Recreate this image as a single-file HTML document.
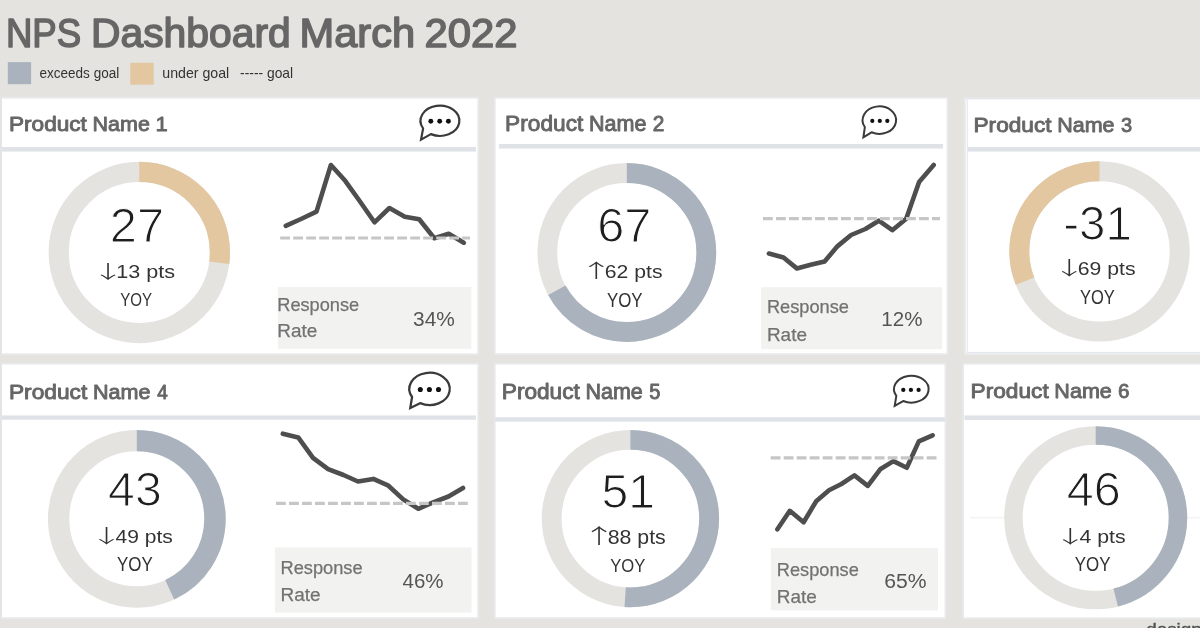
<!DOCTYPE html>
<html><head><meta charset="utf-8"><title>NPS Dashboard March 2022</title>
<style>
html,body{margin:0;padding:0;background:#e4e3df;}
body{width:1200px;height:628px;overflow:hidden;}
svg{display:block;font-family:"Liberation Sans",Arial,sans-serif;font-kerning:none;}
</style></head><body>
<svg width="1200" height="628" viewBox="0 0 1200 628">
<rect x="0" y="0" width="1200" height="628" fill="#e4e3df"/>
<text x="5.90" y="46.50" font-size="39.97" font-weight="normal" textLength="75.18" lengthAdjust="spacingAndGlyphs" fill="#666666" stroke="#666666" stroke-width="1.5" stroke-linejoin="round">NPS</text>
<text x="91.00" y="46.50" font-size="39.97" font-weight="normal" textLength="199.78" lengthAdjust="spacingAndGlyphs" fill="#666666" stroke="#666666" stroke-width="1.5" stroke-linejoin="round">Dashboard</text>
<text x="299.49" y="46.50" font-size="39.97" font-weight="normal" textLength="115.62" lengthAdjust="spacingAndGlyphs" fill="#666666" stroke="#666666" stroke-width="1.5" stroke-linejoin="round">March</text>
<text x="424.50" y="46.50" font-size="39.97" font-weight="normal" textLength="93.01" lengthAdjust="spacingAndGlyphs" fill="#666666" stroke="#666666" stroke-width="1.5" stroke-linejoin="round">2022</text>
<rect x="7.8" y="62.1" width="23.3" height="22.1" fill="#aab3bd"/>
<text x="39.53" y="78.30" font-size="14.49" font-weight="normal" textLength="79.68" lengthAdjust="spacingAndGlyphs" fill="#333333">exceeds goal</text>
<rect x="130.2" y="62.8" width="23.5" height="21.9" fill="#e2c7a1"/>
<text x="162.28" y="78.25" font-size="13.87" font-weight="normal" textLength="66.97" lengthAdjust="spacingAndGlyphs" fill="#333333">under goal</text>
<text x="240.09" y="78.25" font-size="13.87" font-weight="normal" textLength="53.04" lengthAdjust="spacingAndGlyphs" fill="#333333">----- goal</text>
<rect x="1" y="97.6" width="477.40" height="256.80" fill="#ffffff"/>
<rect x="1.5" y="98.1" width="476.40" height="255.80" fill="none" stroke="#e3e6ea" stroke-width="1"/>
<rect x="2" y="147" width="474.00" height="4.60" fill="#dfe3e8"/>
<text x="8.94" y="130.60" font-size="20.64" font-weight="normal" textLength="77.97" lengthAdjust="spacingAndGlyphs" fill="#666666" stroke="#666666" stroke-width="0.9" stroke-linejoin="round">Product</text>
<text x="92.59" y="130.60" font-size="20.64" font-weight="normal" textLength="57.28" lengthAdjust="spacingAndGlyphs" fill="#666666" stroke="#666666" stroke-width="0.9" stroke-linejoin="round">Name</text>
<text x="155.43" y="130.60" font-size="20.64" font-weight="normal" textLength="12.25" lengthAdjust="spacingAndGlyphs" fill="#666666" stroke="#666666" stroke-width="0.9" stroke-linejoin="round">1</text>
<path d="M423.11,128.35 L421.02,139.68 L430.82,134.13 A19.45,15.10 0 1 0 423.11,128.35 Z" fill="#fff" stroke="#3a3a3a" stroke-width="2.2" stroke-linejoin="miter"/>
<circle cx="430.8" cy="121.2" r="2.46" fill="#111"/>
<circle cx="439.7" cy="121.2" r="2.46" fill="#111"/>
<circle cx="448.4" cy="121.2" r="2.46" fill="#111"/>
<circle cx="139.3" cy="252.5" r="80.60" fill="#fff" stroke="#e4e3df" stroke-width="20.20"/>
<circle cx="139.3" cy="252.5" r="80.60" fill="none" stroke="#e2c7a1" stroke-width="20.20" stroke-dasharray="136.73 506.42" transform="rotate(-90 139.3 252.5)"/>
<text x="109.89" y="242.35" font-size="47.38" font-weight="normal" textLength="54.31" lengthAdjust="spacingAndGlyphs" fill="#1e1e1e" stroke="#fff" stroke-width="1.1">27</text>
<text x="91.89" y="277.94" font-size="18.38" textLength="32.62" lengthAdjust="spacingAndGlyphs" fill="#333333" font-weight="300" font-family="Noto Sans CJK JP, sans-serif">↓</text>
<text x="116.16" y="277.60" font-size="17.88" font-weight="normal" textLength="58.83" lengthAdjust="spacingAndGlyphs" fill="#333333">13 pts</text>
<text x="120.17" y="305.50" font-size="18.46" font-weight="normal" textLength="31.86" lengthAdjust="spacingAndGlyphs" fill="#333333">YOY</text>
<polyline points="285.7,225.9 301,219 316.5,211.6 330.9,165 345.2,180.8 360,201.5 374.5,222.3 389.4,208 404.8,216.7 419.2,219.3 434.3,238.2 448.7,233.7 463.8,242.7" fill="none" stroke="#4e4e4e" stroke-width="4.6" stroke-linejoin="round" stroke-linecap="round"/>
<line x1="280.2" y1="238" x2="470" y2="238" stroke="#c6c6c6" stroke-width="3.2" stroke-dasharray="9.8 3.2"/>
<rect x="277.9" y="287" width="193.40" height="61.80" fill="#f2f2f1"/>
<text x="277.26" y="310.60" font-size="19.04" font-weight="normal" textLength="81.95" lengthAdjust="spacingAndGlyphs" fill="#727272" stroke="#727272" stroke-width="0.25" stroke-linejoin="round">Response</text>
<text x="277.26" y="337.4" font-size="19.04" textLength="39.98" lengthAdjust="spacingAndGlyphs" fill="#727272" stroke="#727272" stroke-width="0.25">Rate</text>
<text x="413.11" y="325.90" font-size="20.93" font-weight="normal" textLength="41.74" lengthAdjust="spacingAndGlyphs" fill="#555555">34%</text>
<rect x="494.6" y="97.5" width="453.00" height="256.80" fill="#ffffff"/>
<rect x="495.1" y="98.0" width="452.00" height="255.80" fill="none" stroke="#e3e6ea" stroke-width="1"/>
<rect x="499" y="144" width="444.00" height="4.60" fill="#dfe3e8"/>
<text x="505.14" y="131.00" font-size="21.22" font-weight="normal" textLength="78.17" lengthAdjust="spacingAndGlyphs" fill="#666666" stroke="#666666" stroke-width="0.9" stroke-linejoin="round">Product</text>
<text x="588.99" y="131.00" font-size="21.22" font-weight="normal" textLength="57.43" lengthAdjust="spacingAndGlyphs" fill="#666666" stroke="#666666" stroke-width="0.9" stroke-linejoin="round">Name</text>
<text x="652.63" y="131.00" font-size="21.22" font-weight="normal" textLength="11.62" lengthAdjust="spacingAndGlyphs" fill="#666666" stroke="#666666" stroke-width="0.9" stroke-linejoin="round">2</text>
<path d="M864.84,127.03 L863.40,137.30 L871.49,132.29 A16.75,13.75 0 1 0 864.84,127.03 Z" fill="#fff" stroke="#3a3a3a" stroke-width="2.0" stroke-linejoin="miter"/>
<circle cx="872.3" cy="120.9" r="2.10" fill="#111"/>
<circle cx="879.8" cy="120.9" r="2.10" fill="#111"/>
<circle cx="887.3" cy="120.9" r="2.10" fill="#111"/>
<circle cx="626.8" cy="252.5" r="79.50" fill="#fff" stroke="#e4e3df" stroke-width="19.80"/>
<circle cx="626.8" cy="252.5" r="79.50" fill="none" stroke="#aab3bd" stroke-width="19.80" stroke-dasharray="334.67 499.51" transform="rotate(-90 626.8 252.5)"/>
<text x="597.18" y="242.35" font-size="47.38" font-weight="normal" textLength="54.12" lengthAdjust="spacingAndGlyphs" fill="#1e1e1e" stroke="#fff" stroke-width="1.1">67</text>
<text x="579.99" y="277.88" font-size="19.03" textLength="32.62" lengthAdjust="spacingAndGlyphs" fill="#333333" font-weight="300" font-family="Noto Sans CJK JP, sans-serif">↑</text>
<text x="604.83" y="277.60" font-size="18.75" font-weight="normal" textLength="57.64" lengthAdjust="spacingAndGlyphs" fill="#333333">62 pts</text>
<text x="606.93" y="306.80" font-size="19.48" font-weight="normal" textLength="35.64" lengthAdjust="spacingAndGlyphs" fill="#333333">YOY</text>
<polyline points="768.9,253.5 783.5,257.5 796.8,268.4 810.7,264.8 824.6,261.4 837.6,246.1 851.1,235 865.4,229 878.8,220.7 892.3,230.2 906.2,218.7 919.1,181.9 933.7,165" fill="none" stroke="#4e4e4e" stroke-width="4.6" stroke-linejoin="round" stroke-linecap="round"/>
<line x1="763" y1="218.7" x2="940" y2="218.7" stroke="#c6c6c6" stroke-width="3.2" stroke-dasharray="9.8 3.2"/>
<rect x="761.1" y="287.2" width="181.10" height="62.00" fill="#f2f2f1"/>
<text x="766.90" y="313.30" font-size="18.17" font-weight="normal" textLength="82.11" lengthAdjust="spacingAndGlyphs" fill="#727272" stroke="#727272" stroke-width="0.25" stroke-linejoin="round">Response</text>
<text x="766.90" y="340.6" font-size="18.17" textLength="40.06" lengthAdjust="spacingAndGlyphs" fill="#727272" stroke="#727272" stroke-width="0.25">Rate</text>
<text x="881.34" y="325.80" font-size="20.64" font-weight="normal" textLength="41.10" lengthAdjust="spacingAndGlyphs" fill="#555555">12%</text>
<rect x="964.7" y="97.8" width="245.30" height="256.50" fill="#ffffff"/>
<rect x="965.2" y="98.3" width="244.30" height="255.50" fill="none" stroke="#e3e6ea" stroke-width="1"/>
<rect x="967.2" y="98.8" width="245.30" height="253.60" fill="none" stroke="#e2e5e9" stroke-width="1"/>
<rect x="967.6" y="147" width="232.40" height="4.60" fill="#dfe3e8"/>
<text x="973.54" y="131.60" font-size="20.64" font-weight="normal" textLength="77.97" lengthAdjust="spacingAndGlyphs" fill="#666666" stroke="#666666" stroke-width="0.9" stroke-linejoin="round">Product</text>
<text x="1057.19" y="131.60" font-size="20.64" font-weight="normal" textLength="57.28" lengthAdjust="spacingAndGlyphs" fill="#666666" stroke="#666666" stroke-width="0.9" stroke-linejoin="round">Name</text>
<text x="1120.94" y="131.60" font-size="20.64" font-weight="normal" textLength="11.14" lengthAdjust="spacingAndGlyphs" fill="#666666" stroke="#666666" stroke-width="0.9" stroke-linejoin="round">3</text>
<circle cx="1099.5" cy="251.4" r="80.20" fill="#fff" stroke="#e4e3df" stroke-width="20.00"/>
<circle cx="1099.5" cy="251.4" r="80.20" fill="none" stroke="#e2c7a1" stroke-width="20.00" stroke-dasharray="156.21 503.91" transform="translate(2199.0 0) scale(-1 1) rotate(-90 1099.5 251.4)"/>
<text x="1063.24" y="240.25" font-size="48.26" font-weight="normal" textLength="68.63" lengthAdjust="spacingAndGlyphs" fill="#1e1e1e" stroke="#fff" stroke-width="1.1">-31</text>
<text x="1052.99" y="275.09" font-size="18.92" textLength="32.62" lengthAdjust="spacingAndGlyphs" fill="#333333" font-weight="300" font-family="Noto Sans CJK JP, sans-serif">↓</text>
<text x="1077.82" y="274.80" font-size="18.60" font-weight="normal" textLength="57.74" lengthAdjust="spacingAndGlyphs" fill="#333333">69 pts</text>
<text x="1079.94" y="304.40" font-size="19.77" font-weight="normal" textLength="34.93" lengthAdjust="spacingAndGlyphs" fill="#333333">YOY</text>
<rect x="1" y="363.6" width="477.40" height="254.70" fill="#ffffff"/>
<rect x="1.5" y="364.1" width="476.40" height="253.70" fill="none" stroke="#e3e6ea" stroke-width="1"/>
<rect x="2" y="415.4" width="474.00" height="4.40" fill="#dfe3e8"/>
<text x="8.94" y="398.60" font-size="20.64" font-weight="normal" textLength="78.27" lengthAdjust="spacingAndGlyphs" fill="#666666" stroke="#666666" stroke-width="0.9" stroke-linejoin="round">Product</text>
<text x="92.90" y="398.60" font-size="20.64" font-weight="normal" textLength="57.50" lengthAdjust="spacingAndGlyphs" fill="#666666" stroke="#666666" stroke-width="0.9" stroke-linejoin="round">Name</text>
<text x="157.23" y="398.60" font-size="20.64" font-weight="normal" textLength="10.52" lengthAdjust="spacingAndGlyphs" fill="#666666" stroke="#666666" stroke-width="0.9" stroke-linejoin="round">4</text>
<path d="M412.06,396.97 L410.28,407.92 L420.07,403.16 A20.20,16.15 0 1 0 412.06,396.97 Z" fill="#fff" stroke="#3a3a3a" stroke-width="2.3" stroke-linejoin="miter"/>
<circle cx="420.3" cy="389.5" r="2.55" fill="#111"/>
<circle cx="429.4" cy="389.5" r="2.55" fill="#111"/>
<circle cx="438.5" cy="389.5" r="2.55" fill="#111"/>
<circle cx="136.8" cy="518.8" r="78.20" fill="#fff" stroke="#e4e3df" stroke-width="21.40"/>
<circle cx="136.8" cy="518.8" r="78.20" fill="none" stroke="#aab3bd" stroke-width="21.40" stroke-dasharray="211.28 491.35" transform="rotate(-90 136.8 518.8)"/>
<text x="108.14" y="506.45" font-size="47.53" font-weight="normal" textLength="53.63" lengthAdjust="spacingAndGlyphs" fill="#1e1e1e" stroke="#fff" stroke-width="1.1">43</text>
<text x="90.19" y="542.88" font-size="19.03" textLength="32.62" lengthAdjust="spacingAndGlyphs" fill="#333333" font-weight="300" font-family="Noto Sans CJK JP, sans-serif">↓</text>
<text x="115.62" y="542.60" font-size="18.75" font-weight="normal" textLength="57.24" lengthAdjust="spacingAndGlyphs" fill="#333333">49 pts</text>
<text x="117.03" y="571.20" font-size="19.48" font-weight="normal" textLength="35.74" lengthAdjust="spacingAndGlyphs" fill="#333333">YOY</text>
<polyline points="282.8,433.7 298.2,437.4 313,457.9 328.1,469.2 343.5,475 358,481.5 373.3,478.9 387.9,485.3 403.2,499.4 418.3,508.8 433.1,502.3 448.5,496.5 463,488" fill="none" stroke="#4e4e4e" stroke-width="4.6" stroke-linejoin="round" stroke-linecap="round"/>
<line x1="276" y1="503.4" x2="469" y2="503.4" stroke="#c6c6c6" stroke-width="3.2" stroke-dasharray="9.8 3.2"/>
<rect x="274.9" y="547.5" width="196.60" height="65.10" fill="#f2f2f1"/>
<text x="280.50" y="574.00" font-size="18.75" font-weight="normal" textLength="82.11" lengthAdjust="spacingAndGlyphs" fill="#727272" stroke="#727272" stroke-width="0.25" stroke-linejoin="round">Response</text>
<text x="280.50" y="600.9" font-size="18.75" textLength="40.06" lengthAdjust="spacingAndGlyphs" fill="#727272" stroke="#727272" stroke-width="0.25">Rate</text>
<text x="402.53" y="588.00" font-size="20.35" font-weight="normal" textLength="41.00" lengthAdjust="spacingAndGlyphs" fill="#555555">46%</text>
<rect x="494.6" y="363.6" width="451.00" height="254.70" fill="#ffffff"/>
<rect x="495.1" y="364.1" width="450.00" height="253.70" fill="none" stroke="#e3e6ea" stroke-width="1"/>
<rect x="495" y="417.2" width="450.30" height="4.50" fill="#dfe3e8"/>
<text x="501.79" y="399.30" font-size="21.29" font-weight="normal" textLength="78.05" lengthAdjust="spacingAndGlyphs" fill="#666666" stroke="#666666" stroke-width="0.9" stroke-linejoin="round">Product</text>
<text x="585.51" y="399.30" font-size="21.29" font-weight="normal" textLength="57.34" lengthAdjust="spacingAndGlyphs" fill="#666666" stroke="#666666" stroke-width="0.9" stroke-linejoin="round">Name</text>
<text x="649.29" y="399.30" font-size="21.29" font-weight="normal" textLength="11.15" lengthAdjust="spacingAndGlyphs" fill="#666666" stroke="#666666" stroke-width="0.9" stroke-linejoin="round">5</text>
<path d="M896.32,395.90 L894.70,405.80 L903.18,401.03 A17.30,13.40 0 1 0 896.32,395.90 Z" fill="#fff" stroke="#3a3a3a" stroke-width="2.0" stroke-linejoin="miter"/>
<circle cx="903.3" cy="389.9" r="2.14" fill="#111"/>
<circle cx="910.9" cy="389.9" r="2.14" fill="#111"/>
<circle cx="918.6" cy="389.9" r="2.14" fill="#111"/>
<circle cx="630.4" cy="518.6" r="78.75" fill="#fff" stroke="#e4e3df" stroke-width="19.90"/>
<circle cx="630.4" cy="518.6" r="78.75" fill="none" stroke="#aab3bd" stroke-width="19.90" stroke-dasharray="252.35 494.80" transform="rotate(-90 630.4 518.6)"/>
<text x="601.52" y="508.35" font-size="47.53" font-weight="normal" textLength="53.58" lengthAdjust="spacingAndGlyphs" fill="#1e1e1e" stroke="#fff" stroke-width="1.1">51</text>
<text x="582.69" y="544.24" font-size="20.65" textLength="32.62" lengthAdjust="spacingAndGlyphs" fill="#333333" font-weight="300" font-family="Noto Sans CJK JP, sans-serif">↑</text>
<text x="607.67" y="544.10" font-size="20.93" font-weight="normal" textLength="58.10" lengthAdjust="spacingAndGlyphs" fill="#333333">88 pts</text>
<text x="610.13" y="572.20" font-size="19.19" font-weight="normal" textLength="35.13" lengthAdjust="spacingAndGlyphs" fill="#333333">YOY</text>
<polyline points="777.4,529.3 789.8,510.8 803.6,522.2 816.2,501.2 829,490.3 841.4,484 854.4,475.4 867.8,485.9 880.2,469.3 893.4,461.1 906.8,467.8 918.8,441.4 932.6,435.3" fill="none" stroke="#4e4e4e" stroke-width="4.6" stroke-linejoin="round" stroke-linecap="round"/>
<line x1="770.7" y1="457.8" x2="937" y2="457.8" stroke="#c6c6c6" stroke-width="3.2" stroke-dasharray="9.8 3.2"/>
<rect x="770.8" y="548" width="167.20" height="62.30" fill="#f2f2f1"/>
<text x="776.81" y="575.80" font-size="18.60" font-weight="normal" textLength="82.00" lengthAdjust="spacingAndGlyphs" fill="#727272" stroke="#727272" stroke-width="0.25" stroke-linejoin="round">Response</text>
<text x="776.81" y="603.3" font-size="18.60" textLength="40.01" lengthAdjust="spacingAndGlyphs" fill="#727272" stroke="#727272" stroke-width="0.25">Rate</text>
<text x="884.23" y="588.00" font-size="20.06" font-weight="normal" textLength="42.33" lengthAdjust="spacingAndGlyphs" fill="#555555">65%</text>
<rect x="962.8" y="363.6" width="247.20" height="254.80" fill="#ffffff"/>
<rect x="963.3" y="364.1" width="246.20" height="253.80" fill="none" stroke="#e3e6ea" stroke-width="1"/>
<rect x="964.4" y="415.4" width="235.60" height="4.60" fill="#dfe3e8"/>
<text x="970.54" y="398.20" font-size="20.93" font-weight="normal" textLength="78.17" lengthAdjust="spacingAndGlyphs" fill="#666666" stroke="#666666" stroke-width="0.9" stroke-linejoin="round">Product</text>
<text x="1054.39" y="398.20" font-size="20.93" font-weight="normal" textLength="57.43" lengthAdjust="spacingAndGlyphs" fill="#666666" stroke="#666666" stroke-width="0.9" stroke-linejoin="round">Name</text>
<text x="1118.03" y="398.20" font-size="20.93" font-weight="normal" textLength="11.47" lengthAdjust="spacingAndGlyphs" fill="#666666" stroke="#666666" stroke-width="0.9" stroke-linejoin="round">6</text>
<line x1="970" y1="517.8" x2="1200" y2="517.8" stroke="#eeeeee" stroke-width="1"/>
<circle cx="1095.7" cy="517.8" r="82.25" fill="#fff" stroke="#e4e3df" stroke-width="18.50"/>
<circle cx="1095.7" cy="517.8" r="82.25" fill="none" stroke="#aab3bd" stroke-width="18.50" stroke-dasharray="237.72 516.79" transform="rotate(-90 1095.7 517.8)"/>
<text x="1066.73" y="506.15" font-size="47.38" font-weight="normal" textLength="54.05" lengthAdjust="spacingAndGlyphs" fill="#1e1e1e" stroke="#fff" stroke-width="1.1">46</text>
<text x="1053.99" y="542.87" font-size="18.05" textLength="32.62" lengthAdjust="spacingAndGlyphs" fill="#333333" font-weight="300" font-family="Noto Sans CJK JP, sans-serif">↓</text>
<text x="1079.41" y="542.50" font-size="17.44" font-weight="normal" textLength="46.16" lengthAdjust="spacingAndGlyphs" fill="#333333">4 pts</text>
<text x="1074.73" y="571.20" font-size="19.48" font-weight="normal" textLength="35.74" lengthAdjust="spacingAndGlyphs" fill="#333333">YOY</text>
<text x="1146.21" y="634.70" font-size="17.25" font-weight="normal" textLength="55.51" lengthAdjust="spacingAndGlyphs" fill="#505050" stroke="#505050" stroke-width="0.4" stroke-linejoin="round">design</text>
</svg>
</body></html>
